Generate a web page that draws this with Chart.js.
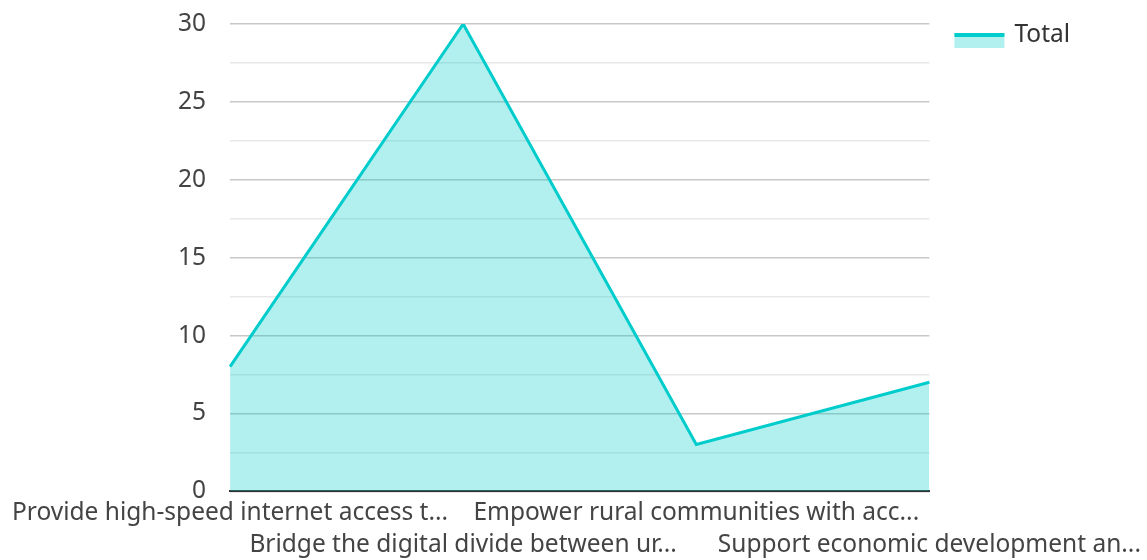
<!DOCTYPE html>
<html>
<head>
<meta charset="utf-8">
<script src="https://cdn.jsdelivr.net/npm/chart.js@4"></script>
<style>
  html, body { margin: 0; padding: 0; background: #fff; }
  #wrap { width: 1147px; height: 560px; }
</style>
</head>
<body>
<div id="wrap"><canvas id="areaChart"></canvas></div>
<script>
const categories = [
  "Provide high-speed internet access t...",
  "Bridge the digital divide between ur...",
  "Empower rural communities with acc...",
  "Support economic development an..."
];
const totals = [8, 30, 3, 7];
const seriesName = "Total";

// alternate labels between two rows so they don't overlap
const tickLabels = categories.map((c, i) => i % 2 === 0 ? [c, ""] : ["", c]);

const lineColor = "#00cccc";
const fillColor = "rgba(0,204,204,0.3)";
const fontSize = 24.5;

// legend drawn to the right of the plot: swatch (line over fill) + label
const sideLegend = {
  id: "sideLegend",
  afterDraw(chart) {
    const c = chart.ctx;
    const x = chart.chartArea.right + 25;
    const y = 33;
    c.save();
    c.fillStyle = fillColor;
    c.fillRect(x, y, 50, 15);
    c.fillStyle = lineColor;
    c.fillRect(x, y, 50, 4);
    c.fillStyle = "#333";
    c.font = fontSize + "px 'Noto Sans', sans-serif";
    c.textBaseline = "alphabetic";
    c.fillText(chart.data.datasets[0].label, x + 60, 42);
    c.restore();
  }
};

Chart.defaults.font.family = "'Noto Sans', sans-serif";
Chart.defaults.font.size = fontSize;
Chart.defaults.color = "#444";

const ctx = document.getElementById("areaChart").getContext("2d");
const chart = new Chart(ctx, {
  type: "line",
  data: {
    labels: tickLabels,
    datasets: [{
      label: seriesName,
      data: totals,
      borderColor: lineColor,
      backgroundColor: fillColor,
      borderWidth: 3,
      fill: "origin",
      tension: 0,
      pointRadius: 0,
      pointHoverRadius: 0
    }]
  },
  options: {
    responsive: true,
    maintainAspectRatio: false,
    animation: false,
    layout: { padding: { top: 0, left: 18, right: 212, bottom: -7 } },
    plugins: {
      tooltip: { enabled: false },
      legend: { display: false }
    },
    scales: {
      x: {
        grid: { display: false, drawTicks: false },
        border: { color: "#333", width: 2 },
        ticks: {
          autoSkip: false,
          maxRotation: 0,
          padding: 6,
          font: { size: fontSize, lineHeight: 1.3 }
        },
        afterFit(scale) {
          // a little margin left of the first label
          scale.paddingLeft += 6;
        }
      },
      y: {
        min: 0,
        max: 30,
        border: { display: false },
        grid: {
          drawTicks: false,
          color: c => (c.tick && c.tick.value % 5 === 0) ? "#c8c8c8" : "#e8e8e8",
          lineWidth: 1.5
        },
        ticks: {
          stepSize: 2.5,
          padding: 24,
          font: { size: fontSize, lineHeight: 1 },
          callback: v => v % 5 === 0 ? v : ""
        },
        afterFit(scale) {
          // tick padding otherwise also pushes the plot down from the top
          scale.paddingTop = 24;
          scale.paddingBottom = 0;
        }
      }
    }
  },
  plugins: [sideLegend]
});
</script>
</body>
</html>
